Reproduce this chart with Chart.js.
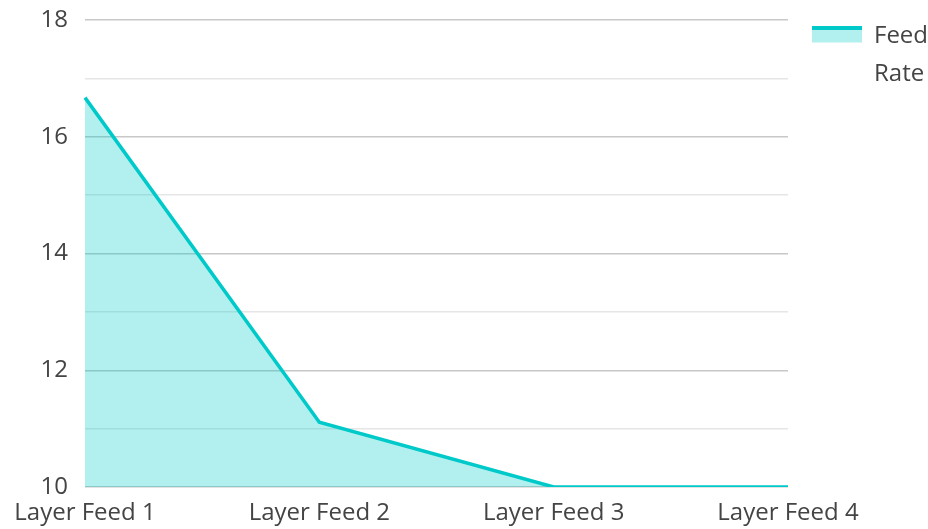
<!DOCTYPE html>
<html>
<head>
<meta charset="utf-8">
<script src="https://cdn.jsdelivr.net/npm/chart.js@4/dist/chart.umd.min.js"></script>
<style>
  html, body { margin: 0; padding: 0; background: #fff; }
  #wrap { width: 928px; height: 529px; }
</style>
</head>
<body>
<div id="wrap"><canvas id="feedChart"></canvas></div>
<script>
// data
const categories = ["Layer Feed 1", "Layer Feed 2", "Layer Feed 3", "Layer Feed 4"];
const feedRate = [16.67, 11.11, 10, 10];
const seriesLabel = ["Feed", "Rate"];
const yMin = 10;
const yMax = 18;

const LINE = "#00c9c9";
const FILL = "rgba(0, 201, 201, 0.3)";
const FONT = "'Open Sans', sans-serif";

// draws the thick top edge on the legend swatch
const legendTopLine = {
    id: "legendTopLine",
    afterDraw(chart) {
        const lg = chart.legend;
        if (!lg || !lg.legendHitBoxes || !lg.legendHitBoxes.length) return;
        const hb = lg.legendHitBoxes[0];
        const bw = lg.options.labels.boxWidth;
        const ctx = chart.ctx;
        ctx.save();
        ctx.fillStyle = LINE;
        ctx.fillRect(hb.left, hb.top + 2, bw, 4);
        ctx.restore();
    }
};

const ctx = document.getElementById("feedChart").getContext("2d");
new Chart(ctx, {
    type: "line",
    data: {
        labels: categories,
        datasets: [{
            label: seriesLabel,
            data: feedRate,
            borderColor: LINE,
            backgroundColor: FILL,
            fill: "start",
            borderWidth: 3.5,
            tension: 0,
            pointRadius: 0
        }]
    },
    options: {
        responsive: true,
        maintainAspectRatio: false,
        animation: false,
        layout: { padding: 0 },
        scales: {
            x: {
                offset: false,
                grid: { display: false, drawTicks: false },
                border: { display: false },
                ticks: { color: "#444", font: { size: 24, family: FONT }, padding: 12, maxRotation: 0, autoSkip: false },
                afterFit: (s) => { s.height = 42; s.paddingLeft = 0; s.paddingRight = 0; }
            },
            y: {
                min: yMin,
                max: yMax,
                grid: {
                    drawTicks: false,
                    color: (c) => (c.tick && c.tick.value % 2 === 0) ? "#c8c8c8" : "#e6e6e6",
                    lineWidth: 1.5
                },
                border: { display: false },
                ticks: {
                    stepSize: 1,
                    color: "#444",
                    padding: 17,
                    font: { size: 24, family: FONT },
                    callback: (v) => (v % 2 === 0 ? v : "")
                },
                afterFit: (s) => { s.width = 85; s.paddingTop = 20; s.paddingBottom = 0; }
            }
        },
        plugins: {
            legend: {
                display: true,
                position: "right",
                align: "start",
                maxWidth: 140,
                labels: {
                    boxWidth: 50,
                    boxHeight: 13,
                    padding: 24,
                    color: "#444",
                    font: { size: 24, family: FONT, lineHeight: 1.6 },
                    generateLabels: () => [{
                        text: seriesLabel,
                        fillStyle: FILL,
                        strokeStyle: FILL,
                        lineWidth: 0,
                        fontColor: "#444",
                        datasetIndex: 0
                    }]
                }
            },
            tooltip: { enabled: false }
        }
    },
    plugins: [legendTopLine]
});
</script>
</body>
</html>
